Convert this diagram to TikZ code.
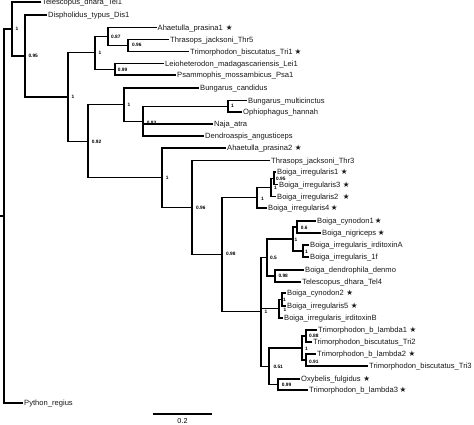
\documentclass[tikz,border=0pt]{standalone}
\usepackage{fontspec}
\setmainfont{Liberation Sans}
\newfontfamily\symfont{DejaVu Sans}
\newcommand\mystar[1][2.5pt]{\hspace{#1}{\symfont\fontsize{7.5}{8}\selectfont ★}}
\begin{document}
\begin{tikzpicture}[x=1pt,y=-1pt,
  br/.style={line width=1.1pt, black, line cap=rect},
  leaf/.style={anchor=west, inner sep=0pt, inner xsep=1.5pt, font=\fontsize{7.6}{8}\selectfont, text height=5.4pt, text depth=0.3pt, text=black!90},
  bs/.style={anchor=west, inner sep=0pt, font=\bfseries\fontsize{4.8}{5}\selectfont, text height=3.4pt, text depth=0pt}]
\useasboundingbox (0,0) rectangle (474,424);
\clip (0,0) rectangle (474,424);
\fill[white] (0,0) rectangle (474,424);
% internal nodes
\coordinate (rt) at (0,216);
\coordinate (root) at (4,216);
\coordinate (A) at (12,29);
\coordinate (B) at (25,56);
\coordinate (C) at (68,97);
\coordinate (D) at (95,52.9);
\coordinate (F) at (108,36.5);
\coordinate (H) at (128,45.5);
\coordinate (G) at (115,69.25);
\coordinate (E) at (88,141.2);
\coordinate (I) at (124,104.6);
\coordinate (K) at (143,121.1);
\coordinate (L) at (228,106.25);
\coordinate (J) at (162,177.8);
\coordinate (M) at (192,207.6);
\coordinate (N) at (222,254.8);
\coordinate (O) at (257,197.7);
\coordinate (Q) at (271,187.4);
\coordinate (Q1) at (274,178.25);
\coordinate (P) at (261,311.9);
\coordinate (T) at (267,257.5);
\coordinate (U) at (293,239);
\coordinate (U1) at (297,227);
\coordinate (U2) at (303,251);
\coordinate (V) at (275,276);
\coordinate (W) at (279,308.75);
\coordinate (W1) at (282,299.5);
\coordinate (X) at (269,366.25);
\coordinate (Y) at (302,348);
\coordinate (Y1) at (306,336);
\coordinate (Y2) at (306,360);
\coordinate (Z) at (278,384.5);
% leaves
\node[leaf] (tel1) at (40.5,2) {Telescopus\_dhara\_Tel1};
\node[leaf] (dis1) at (46.5,15) {Dispholidus\_typus\_Dis1};
\node[leaf] (aha1) at (156,27.5) {Ahaetulla\_prasina1\mystar[3pt]};
\node[leaf] (thr5) at (168.5,39.5) {Thrasops\_jacksoni\_Thr5};
\node[leaf] (tri1) at (188.5,51.5) {Trimorphodon\_biscutatus\_Tri1\mystar[2pt]};
\node[leaf] (lei1) at (163.5,63.5) {Leioheterodon\_madagascariensis\_Lei1};
\node[leaf] (psa1) at (175.5,75) {Psammophis\_mossambicus\_Psa1};
\node[leaf] (bcan) at (198.5,88) {Bungarus\_candidus};
\node[leaf] (bmul) at (246.5,100.5) {Bungarus\_multicinctus};
\node[leaf] (ohan) at (241.5,112) {Ophiophagus\_hannah};
\node[leaf] (naja) at (212.5,124) {Naja\_atra};
\node[leaf] (dang) at (203.5,136) {Dendroaspis\_angusticeps};
\node[leaf] (aha2) at (225.5,148) {Ahaetulla\_prasina2\mystar};
\node[leaf] (thr3) at (269.5,160.5) {Thrasops\_jacksoni\_Thr3};
\node[leaf] (bir1) at (275.5,172) {Boiga\_irregularis1\mystar};
\node[leaf] (bir3) at (277.5,184.5) {Boiga\_irregularis3\mystar};
\node[leaf] (bir2) at (275.5,196.5) {Boiga\_irregularis2\mystar[4.5pt]};
\node[leaf] (bir4) at (266.5,208) {Boiga\_irregularis4\mystar[1.5pt]};
\node[leaf] (bcy1) at (315.5,221) {Boiga\_cynodon1\mystar[1pt]};
\node[leaf] (bnig) at (320.5,233) {Boiga\_nigriceps\mystar[1.5pt]};
\node[leaf] (birA) at (308.5,245) {Boiga\_irregularis\_irditoxinA};
\node[leaf] (bi1f) at (308.5,257) {Boiga\_irregularis\_1f};
\node[leaf] (bden) at (303.5,270) {Boiga\_dendrophila\_denmo};
\node[leaf] (tel4) at (300.5,282) {Telescopus\_dhara\_Tel4};
\node[leaf] (bcy2) at (285.5,293) {Boiga\_cynodon2\mystar};
\node[leaf] (bir5) at (285.5,306) {Boiga\_irregularis5\mystar};
\node[leaf] (birB) at (282.5,318) {Boiga\_irregularis\_irditoxinB};
\node[leaf] (tl1) at (316.5,330) {Trimorphodon\_b\_lambda1\mystar};
\node[leaf] (tri2) at (311.5,342) {Trimorphodon\_biscutatus\_Tri2};
\node[leaf] (tl2) at (315.5,354) {Trimorphodon\_b\_lambda2\mystar};
\node[leaf] (tri3) at (367.5,366) {Trimorphodon\_biscutatus\_Tri3};
\node[leaf] (oxy) at (299.5,379) {Oxybelis\_fulgidus\mystar};
\node[leaf] (tl3) at (307.5,390) {Trimorphodon\_b\_lambda3\mystar[1.5pt]};
\node[leaf] (pyth) at (22.5,403) {Python\_regius};
% branches
\draw[br] (rt) -- (root);
\draw[br] (root) |- (A);
\draw[br] (root) |- (pyth.west);
\draw[br] (A) |- (tel1.west);
\draw[br] (A) |- (B);
\draw[br] (B) |- (dis1.west);
\draw[br] (B) |- (C);
\draw[br] (C) |- (D);
\draw[br] (C) |- (E);
\draw[br] (D) |- (F);
\draw[br] (D) |- (G);
\draw[br] (F) |- (aha1.west);
\draw[br] (F) |- (H);
\draw[br] (H) |- (thr5.west);
\draw[br] (H) |- (tri1.west);
\draw[br] (G) |- (lei1.west);
\draw[br] (G) |- (psa1.west);
\draw[br] (E) |- (I);
\draw[br] (E) |- (J);
\draw[br] (I) |- (bcan.west);
\draw[br] (I) |- (K);
\draw[br] (K) |- (L);
\draw[br] (K) |- (naja.west);
\draw[br] (K) |- (dang.west);
\draw[br] (L) |- (bmul.west);
\draw[br] (L) |- (ohan.west);
\draw[br] (J) |- (aha2.west);
\draw[br] (J) |- (M);
\draw[br] (M) |- (thr3.west);
\draw[br] (M) |- (N);
\draw[br] (N) |- (O);
\draw[br] (N) |- (P);
\draw[br] (O) |- (Q);
\draw[br] (O) |- (bir4.west);
\draw[br] (Q) |- (Q1);
\draw[br] (Q) |- (bir2.west);
\draw[br] (Q1) |- (bir1.west);
\draw[br] (Q1) |- (bir3.west);
\draw[br] (P) |- (T);
\draw[br] (P) |- (W);
\draw[br] (P) |- (X);
\draw[br] (T) |- (U);
\draw[br] (T) |- (V);
\draw[br] (U) |- (U1);
\draw[br] (U) |- (U2);
\draw[br] (U1) |- (bcy1.west);
\draw[br] (U1) |- (bnig.west);
\draw[br] (U2) |- (birA.west);
\draw[br] (U2) |- (bi1f.west);
\draw[br] (V) |- (bden.west);
\draw[br] (V) |- (tel4.west);
\draw[br] (W) |- (W1);
\draw[br] (W) |- (birB.west);
\draw[br] (W1) |- (bcy2.west);
\draw[br] (W1) |- (bir5.west);
\draw[br] (X) |- (Y);
\draw[br] (X) |- (Z);
\draw[br] (Y) |- (Y1);
\draw[br] (Y) |- (Y2);
\draw[br] (Y1) |- (tl1.west);
\draw[br] (Y1) |- (tri2.west);
\draw[br] (Y2) |- (tl2.west);
\draw[br] (Y2) |- (tri3.west);
\draw[br] (Z) |- (oxy.west);
\draw[br] (Z) |- (tl3.west);
% support values
\node[bs] (lA) at (15.5,29) {1};
\node[bs] (lB) at (28.3,56) {0.95};
\node[bs] (lC) at (71.5,97) {1};
\node[bs] (lD) at (98.5,52.5) {1};
\node[bs] (lF) at (111,36.7) {0.87};
\node[bs] (lH) at (132,45) {0.96};
\node[bs] (lG) at (117.7,70) {0.99};
\node[bs] (lI) at (127.5,105) {1};
\node[bs] (lL) at (231,106) {1};
\node[bs] (lK) at (146.7,122.7) {0.83};
\node[bs] (lE) at (91.7,141.7) {0.92};
\node[bs] (lJ) at (165.7,178) {1};
\node[bs] (lM) at (196,207.5) {0.96};
\node[bs] (lN) at (226,254) {0.98};
\node[bs] (lO) at (261,199) {1};
\node[bs] (lQ1) at (276,179) {0.95};
\node[bs] (lQ) at (274,188) {1};
\node[bs] (lU1) at (300.7,227.7) {0.6};
\node[bs] (lU) at (294.5,239.3) {1};
\node[bs] (lU2) at (305,251.7) {1};
\node[bs] (lT) at (270,257.3) {0.5};
\node[bs] (lV) at (278.3,276) {0.98};
\node[bs] (lP) at (264.5,311.7) {1};
\node[bs] (lW1) at (283,300) {1};
\node[bs] (lW) at (283.3,310) {1};
\node[bs] (lX) at (273.3,366.7) {0.51};
\node[bs] (lY) at (305,349) {1};
\node[bs] (lY1) at (309,335.5) {0.88};
\node[bs] (lY2) at (309,361.7) {0.91};
\node[bs] (lZ) at (281.7,385) {0.99};
% scale bar
\coordinate (sbL) at (153,414);
\coordinate (sbR) at (212,414);
\draw[line width=2.8pt] (sbL) -- (sbR);
\node[anchor=base, inner sep=0pt, font=\fontsize{7.2}{8}\selectfont] (sbt) at (182.5,423.3) {0.2};
\end{tikzpicture}
\end{document}
